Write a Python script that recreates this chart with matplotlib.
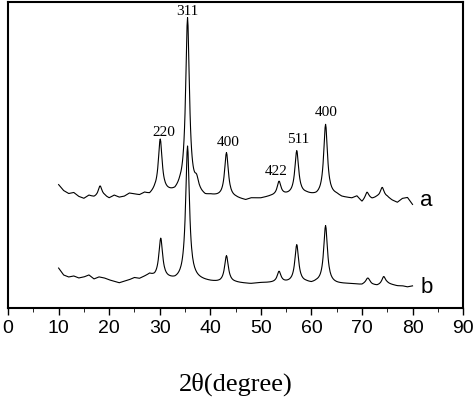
import numpy as np
import matplotlib
matplotlib.use("Agg")
import matplotlib.pyplot as plt

# baseline anchor points (2theta, intensity)
base_a_x = [10, 11, 12, 13, 14, 15, 16, 17, 19, 20, 21, 22, 23, 24, 25, 26, 27, 28, 29, 33, 34, 38, 39, 40, 42, 45, 47, 48, 50, 52, 55, 59, 60, 61, 65, 66, 68, 69, 70, 71, 72, 73, 75, 76, 77, 78, 79, 80]
base_a_y = [124, 118, 115, 116, 112, 110, 113, 111, 112, 110, 113, 111, 112, 115, 114, 113, 115, 113, 116, 115, 118, 113, 111, 112, 111, 110, 108, 110, 110, 112, 113, 114, 113, 112, 113, 111, 110, 112, 106, 110, 109, 111, 111, 108, 106, 110, 111, 104]
base_b_x = [10, 11, 12, 13, 14, 15, 16, 17, 18, 19, 20, 22, 24, 25, 26, 27, 28, 29, 32, 33, 37, 40, 42, 45, 48, 50, 52, 55, 59, 60, 61, 65, 68, 70, 71, 72, 73, 75, 76, 77, 78, 79, 80]
base_b_y = [40, 33, 31, 32, 30, 31, 33, 29, 31, 30, 28, 25, 28, 30, 29, 31, 33, 30, 28, 27, 28, 26, 25, 25, 24, 25, 25, 25, 25, 24, 25, 24, 24, 23, 25, 23, 22, 24, 23, 22, 22, 21, 22]

# peaks: position, height above baseline
peak_a_pos = [18.2, 30.1, 35.5, 37.3, 43.2, 53.6, 57.1, 62.8, 71.0, 74.0]
peak_a_h = [11, 53, 175, 10, 45, 14, 44, 72, 6, 10]
peak_b_pos = [30.2, 35.5, 43.2, 53.6, 57.1, 62.8, 71.2, 74.3]
peak_b_h = [40, 135, 27, 11, 38, 58, 5, 8]
peak_width = [0.45, 0.45, 0.45, 0.45, 0.45, 0.45, 0.45, 0.45, 0.45, 0.45]

labels = ["220", "311", "400", "422", "511", "400"]
label_x = [30.9, 35.5, 43.5, 53.0, 57.3, 62.9]
label_y = [170, 292, 160, 131, 163, 190]

x = np.arange(10, 80.01, 0.1)

def spectrum(bx, by, pos, h):
    y = np.interp(x, bx, by)
    for p, hh, w in zip(pos, h, peak_width):
        y = y + hh / (1 + ((x - p) / w) ** 2)
    return y

ya = spectrum(base_a_x, base_a_y, peak_a_pos, peak_a_h)
yb = spectrum(base_b_x, base_b_y, peak_b_pos, peak_b_h)

fig = plt.figure(figsize=(4.74, 4.16), dpi=100)
ax = fig.add_axes([0.017, 0.26, 0.96, 0.735])
ax.plot(x, ya, color="black", lw=0.8)
ax.plot(x, yb, color="black", lw=0.8)
for t, lx, ly in zip(labels, label_x, label_y):
    ax.text(lx, ly, t, ha="center", va="bottom", fontsize=11, family="Liberation Serif")
ax.text(81.5, 108, "a", fontsize=16, family="Liberation Sans", va="center")
ax.text(81.5, 20, "b", fontsize=16, family="Liberation Sans", va="center")
ax.set_xlim(0, 90)
ax.set_ylim(0, 308)
ax.set_yticks([])
ax.set_xticks(range(0, 91, 10))
ax.set_xticks(range(5, 90, 10), minor=True)
ax.tick_params(axis="x", direction="out", length=5, width=1, labelsize=14)
ax.tick_params(axis="x", which="minor", direction="out", length=3)
for lab in ax.get_xticklabels():
    lab.set_family("Liberation Sans")
for s in ax.spines.values():
    s.set_linewidth(1.5)
ax.set_xlabel("2θ(degree)", fontsize=19, family="Liberation Serif", labelpad=26)
fig.savefig("out.png", dpi=100)
